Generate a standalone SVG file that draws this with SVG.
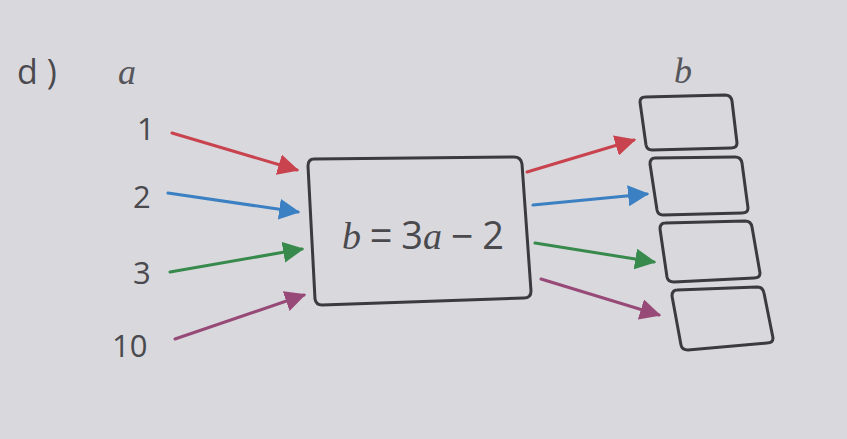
<svg xmlns="http://www.w3.org/2000/svg" width="847" height="439" viewBox="0 0 847 439">
<defs>
<style>
.lbl{font-family:"Open Sans","Liberation Sans",sans-serif;fill:#4a4a4e;font-size:31px}
.ttl{font-family:"Open Sans","Liberation Sans",sans-serif;fill:#4a4a4e;font-size:34px;letter-spacing:9px}
.var{font-family:"Liberation Serif","DejaVu Serif",serif;font-style:italic;fill:#55555a;font-size:36px}
.box{fill:none;stroke:#3a3a3f;stroke-width:3;stroke-linejoin:round}
.ar{fill:none;stroke-width:3;stroke-linecap:round}
.red{stroke:#c9434f}.blue{stroke:#3b80c2}.green{stroke:#378a4c}.purple{stroke:#974a78}
</style>
<marker id="mr" viewBox="0 0 10 10" refX="9" refY="5" markerWidth="7" markerHeight="7" orient="auto" markerUnits="strokeWidth"><path d="M0,0L10,5L0,10z" fill="#c9434f"/></marker>
<marker id="mb" viewBox="0 0 10 10" refX="9" refY="5" markerWidth="7" markerHeight="7" orient="auto" markerUnits="strokeWidth"><path d="M0,0L10,5L0,10z" fill="#3b80c2"/></marker>
<marker id="mg" viewBox="0 0 10 10" refX="9" refY="5" markerWidth="7" markerHeight="7" orient="auto" markerUnits="strokeWidth"><path d="M0,0L10,5L0,10z" fill="#378a4c"/></marker>
<marker id="mp" viewBox="0 0 10 10" refX="9" refY="5" markerWidth="7" markerHeight="7" orient="auto" markerUnits="strokeWidth"><path d="M0,0L10,5L0,10z" fill="#974a78"/></marker>
</defs>
<rect width="847" height="439" fill="#d9d8dd"/>
<g id="title"><text class="ttl" x="17" y="84">d)</text></g>
<g id="head-a"><text class="var" x="118" y="84">a</text></g>
<g id="head-b"><text class="var" x="674" y="83">b</text></g>
<g id="in1"><text class="lbl" x="137" y="140">1</text></g>
<g id="in2"><text class="lbl" x="133" y="208">2</text></g>
<g id="in3"><text class="lbl" x="133" y="284">3</text></g>
<g id="in10"><text class="lbl" x="112" y="357">10</text></g>
<g id="rule">
<path class="box" d="M314,159 L514,157 Q521,157 522,164 L531,291 Q531,298 524,298 L322,305 Q316,305 315,299 L308,166 Q308,159 314,159 Z"/>
<text x="423" y="249" text-anchor="middle" font-size="38" fill="#4a4a4e"><tspan font-family="Liberation Serif,serif" font-style="italic">b</tspan><tspan font-family="Liberation Sans,sans-serif" dx="9">=</tspan><tspan font-family="Open Sans,Liberation Sans,sans-serif" dx="9">3</tspan><tspan font-family="Liberation Serif,serif" font-style="italic">a</tspan><tspan font-family="Liberation Sans,sans-serif" dx="9">−</tspan><tspan font-family="Open Sans,Liberation Sans,sans-serif" dx="9">2</tspan></text>
</g>
<g id="out1"><path class="box" d="M645,97 L725,95 Q731,95 732,101 L737,143 Q737,148 731,148 L652,150 Q647,150 646,145 L640,102 Q640,97 645,97 Z"/></g>
<g id="out2"><path class="box" d="M655,158 L735,157 Q741,157 742,163 L748,208 Q748,213 742,213 L663,215 Q658,215 657,210 L650,164 Q650,158 655,158 Z"/></g>
<g id="out3"><path class="box" d="M665,223 L745,221 Q751,221 752,227 L760,273 Q760,278 754,278 L674,282 Q668,282 667,277 L660,229 Q660,223 665,223 Z"/></g>
<g id="out4"><path class="box" d="M677,290 L757,287 Q763,287 764,293 L773,338 Q773,343 767,343 L688,350 Q682,350 681,345 L672,296 Q672,290 677,290 Z"/></g>
<g id="connectors">
<line class="ar red" x1="172" y1="133" x2="297" y2="170" marker-end="url(#mr)"/>
<line class="ar blue" x1="168" y1="193" x2="298" y2="212" marker-end="url(#mb)"/>
<line class="ar green" x1="170" y1="272" x2="302" y2="249" marker-end="url(#mg)"/>
<line class="ar purple" x1="175" y1="339" x2="304" y2="295" marker-end="url(#mp)"/>
<line class="ar red" x1="527" y1="172" x2="634" y2="140" marker-end="url(#mr)"/>
<line class="ar blue" x1="533" y1="205" x2="647" y2="194" marker-end="url(#mb)"/>
<line class="ar green" x1="535" y1="243" x2="654" y2="262" marker-end="url(#mg)"/>
<line class="ar purple" x1="541" y1="279" x2="659" y2="315" marker-end="url(#mp)"/>
</g>
</svg>
